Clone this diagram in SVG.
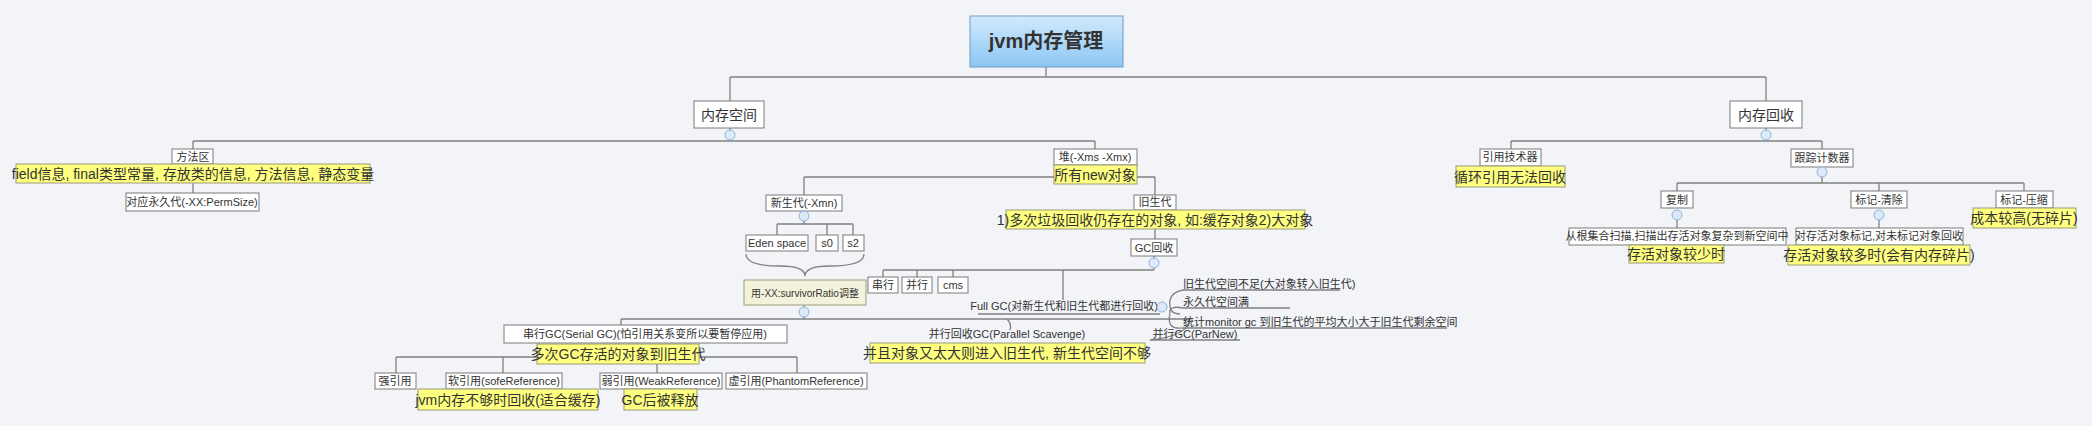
<svg xmlns="http://www.w3.org/2000/svg" width="2092" height="426" viewBox="0 0 2092 426">
<defs>
<linearGradient id="rg" x1="0" y1="0" x2="0" y2="1"><stop offset="0" stop-color="#d2eafc"/><stop offset="1" stop-color="#8cc6f4"/></linearGradient>
<style>
text{font-family:"Liberation Sans","Noto Sans CJK SC",sans-serif;fill:#333;text-anchor:middle}
.b{fill:#fff;stroke:#7a7a7a;stroke-width:1}
.y{fill:#ffff80;stroke:#9a9a7a;stroke-width:1}
.s{font-size:11px}
.m{font-size:14px}
.l{font-size:16px}
.c line,.c path{stroke:#808080;stroke-width:1.3;fill:none}
.col{fill:#dbe9f9;stroke:#8fb3dc;stroke-width:1}
.t{text-anchor:start}
</style>
</defs>
<rect width="2092" height="426" fill="#f2f4f8"/>
<g id="connectors" class="c">
<path d="M1046 67V77M730 77H1766M730 77V101M1766 77V101"/>
<path d="M730 128V141M193 141H1095M193 141V149M1095 141V149M193 183V193"/>
<path d="M804 177H1155M804 177V195M1155 177V195"/>
<path d="M804 211V224M777 224H853M777 224V235M827 224V235M853 224V235"/>
<path d="M746 254Q746 266 780 266Q805 266 805 276Q805 266 830 266Q864 266 864 254" stroke-width="3"/>
<path d="M804 305V319"/>
<path d="M1155 229V239M883 270H1154M1154 256V270M883 270V277M917 270V277M953 270V277M1063 270V300"/>
<path d="M978 314H1160M621 319H1190M621 319V325M1007 319Q1012 324 1010 330M1190 319Q1188 336 1150 340H1240"/>
<path d="M1180 314Q1168 314 1170 300Q1172 292 1183 290H1340M1170 314Q1168 305 1183 308H1290M1170 314Q1166 330 1183 328H1447"/>
<path d="M396 357H797M396 357V373M503 357V373M657 357V373M797 357V373"/>
<path d="M1766 128V141M1511 141H1822M1511 141V149M1822 141V149M1822 175V183M1677 183H2024M1677 183V191M1879 183V191M2024 183V191M1677 212V228M1879 212V228"/>
</g>
<g id="root"><rect x="970" y="16" width="153" height="51" fill="url(#rg)" stroke="#6d9cc8"/><text x="1046" y="48" font-size="20" font-weight="bold" fill="#333">jvm内存管理</text></g>
<g id="n-space"><rect class="b" x="694" y="101" width="70" height="27"/><text class="m" x="729" y="120">内存空间</text><circle class="col" cx="730" cy="135" r="5"/></g>
<g id="n-recycle"><rect class="b" x="1730" y="101" width="72" height="27"/><text class="m" x="1766" y="120">内存回收</text><circle class="col" cx="1766" cy="135" r="5"/></g>
<g id="n-method"><rect class="b" x="172" y="149" width="41" height="15"/><text class="s" x="193" y="161">方法区</text><rect class="y" x="16" y="164" width="354" height="19"/><text class="m" x="193" y="179">field信息, final类型常量, 存放类的信息, 方法信息, 静态变量</text></g>
<g id="n-perm"><rect class="b" x="126" y="193" width="133" height="18"/><text class="s" x="192" y="206">对应永久代(-XX:PermSize)</text></g>
<g id="n-heap"><rect class="b" x="1054" y="149" width="83" height="16"/><text class="s" x="1095" y="161">堆(-Xms -Xmx)</text><rect class="y" x="1054" y="165" width="83" height="19"/><text class="m" x="1095" y="180">所有new对象</text></g>
<g id="n-young"><rect class="b" x="766" y="195" width="76" height="16"/><text class="s" x="804" y="207">新生代(-Xmn)</text><circle class="col" cx="804" cy="216" r="5"/></g>
<g id="n-eden"><rect class="b" x="746" y="235" width="62" height="16"/><text class="s" x="777" y="247">Eden space</text></g>
<g id="n-s0"><rect class="b" x="816" y="235" width="22" height="16"/><text class="s" x="827" y="247">s0</text></g>
<g id="n-s2"><rect class="b" x="843" y="235" width="21" height="16"/><text class="s" x="853" y="247">s2</text></g>
<g id="n-ratio"><rect x="744" y="280" width="122" height="25" fill="#f3f3dc" stroke="#9a9a7a"/><text x="805" y="297" font-size="10">用-XX:survivorRatio调整</text><circle class="col" cx="804" cy="312" r="5"/></g>
<g id="n-old"><rect class="b" x="1134" y="195" width="42" height="15"/><text class="s" x="1155" y="206">旧生代</text><rect class="y" x="1006" y="210" width="299" height="19"/><text class="m" x="1155" y="225">1)多次垃圾回收仍存在的对象, 如:缓存对象2)大对象</text></g>
<g id="n-gc"><rect class="b" x="1131" y="239" width="46" height="17"/><text class="s" x="1154" y="252">GC回收</text><circle class="col" cx="1154" cy="263" r="5"/></g>
<g id="n-serial"><rect class="b" x="868" y="277" width="30" height="16"/><text class="s" x="883" y="289">串行</text></g>
<g id="n-parallel"><rect class="b" x="902" y="277" width="30" height="16"/><text class="s" x="917" y="289">并行</text></g>
<g id="n-cms"><rect class="b" x="938" y="277" width="30" height="16"/><text class="s" x="953" y="289">cms</text></g>
<g id="n-fullgc"><text class="s" x="1064" y="310">Full GC(对新生代和旧生代都进行回收)</text><circle class="col" cx="1162" cy="307" r="5"/></g>
<g id="n-f1"><text class="s t" x="1183" y="288">旧生代空间不足(大对象转入旧生代)</text></g>
<g id="n-f2"><text class="s t" x="1183" y="306">永久代空间满</text></g>
<g id="n-f3"><text class="s t" x="1183" y="326">统计monitor gc 到旧生代的平均大小大于旧生代剩余空间</text></g>
<g id="n-ps"><text class="s" x="1007" y="338">并行回收GC(Parallel Scavenge)</text><rect class="y" x="870" y="343" width="275" height="20"/><text class="m" x="1007" y="358">并且对象又太大则进入旧生代, 新生代空间不够</text></g>
<g id="n-parnew"><text class="s" x="1195" y="338">并行GC(ParNew)</text></g>
<g id="n-serialgc"><rect class="b" x="504" y="325" width="283" height="18"/><text class="s" x="645" y="338">串行GC(Serial GC)(怕引用关系变所以要暂停应用)</text><rect class="y" x="537" y="344" width="162" height="20"/><text class="m" x="618" y="359">多次GC存活的对象到旧生代</text></g>
<g id="n-strong"><rect class="b" x="375" y="373" width="41" height="16"/><text class="s" x="395" y="385">强引用</text></g>
<g id="n-soft"><rect class="b" x="446" y="373" width="116" height="16"/><text class="s" x="504" y="385">软引用(sofeReference)</text><rect class="y" x="418" y="389" width="180" height="21"/><text class="m" x="508" y="405">jvm内存不够时回收(适合缓存)</text></g>
<g id="n-weak"><rect class="b" x="600" y="373" width="122" height="16"/><text class="s" x="661" y="385">弱引用(WeakReference)</text><rect class="y" x="624" y="389" width="73" height="21"/><text class="m" x="660" y="405">GC后被释放</text></g>
<g id="n-phantom"><rect class="b" x="726" y="373" width="141" height="16"/><text class="s" x="796" y="385">虚引用(PhantomReference)</text></g>
<g id="n-refcount"><rect class="b" x="1480" y="149" width="61" height="17"/><text class="s" x="1510" y="161">引用技术器</text><rect class="y" x="1456" y="166" width="109" height="21"/><text class="m" x="1510" y="182">循环引用无法回收</text></g>
<g id="n-trace"><rect class="b" x="1791" y="149" width="62" height="18"/><text class="s" x="1822" y="162">跟踪计数器</text><circle class="col" cx="1822" cy="172" r="5"/></g>
<g id="n-copy"><rect class="b" x="1661" y="191" width="32" height="17"/><text class="s" x="1677" y="204">复制</text><circle class="col" cx="1677" cy="215" r="5"/><rect class="b" x="1569" y="228" width="217" height="17"/><text class="s" x="1677" y="240">从根集合扫描,扫描出存活对象复杂到新空间中</text><rect class="y" x="1629" y="245" width="95" height="18"/><text class="m" x="1676" y="259">存活对象较少时</text></g>
<g id="n-marksweep"><rect class="b" x="1851" y="191" width="56" height="17"/><text class="s" x="1879" y="204">标记-清除</text><circle class="col" cx="1879" cy="215" r="5"/><rect class="b" x="1796" y="228" width="167" height="17"/><text class="s" x="1879" y="240">对存活对象标记,对未标记对象回收</text><rect class="y" x="1788" y="245" width="182" height="20"/><text class="m" x="1879" y="260">存活对象较多时(会有内存碎片)</text></g>
<g id="n-markcompact"><rect class="b" x="1996" y="191" width="57" height="17"/><text class="s" x="2024" y="204">标记-压缩</text><rect class="y" x="1973" y="208" width="103" height="20"/><text class="m" x="2024" y="223">成本较高(无碎片)</text></g>
</svg>
